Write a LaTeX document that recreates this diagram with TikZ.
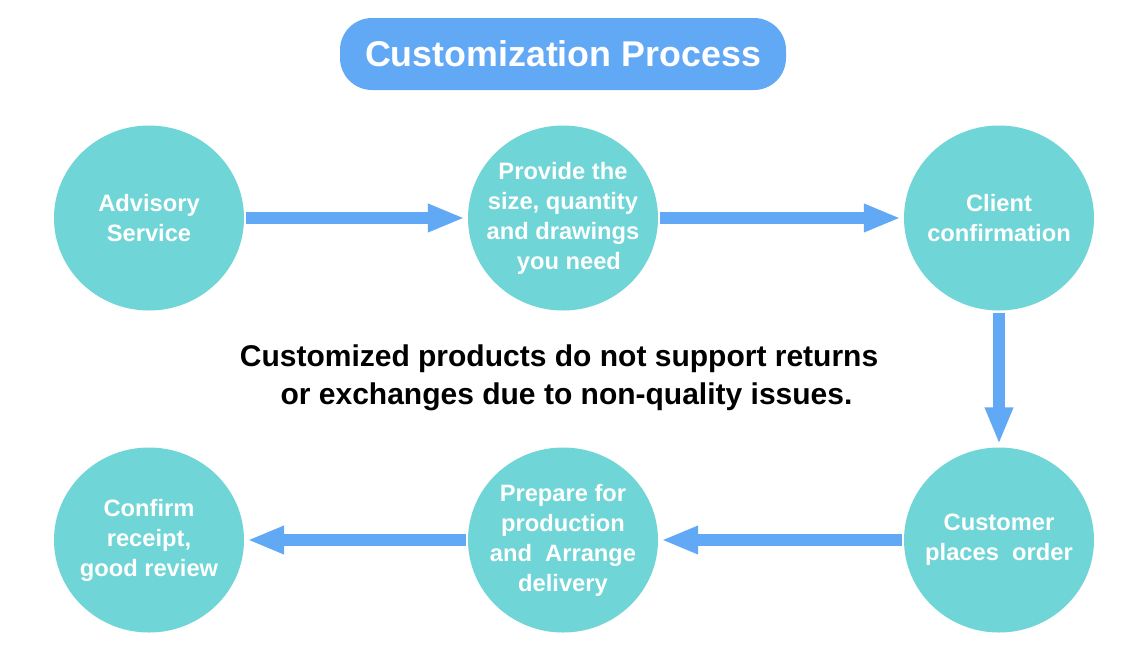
\documentclass[tikz,border=0pt]{standalone}
\usepackage{fontspec}
\setmainfont{Liberation Sans}
\usetikzlibrary{shapes.geometric,arrows.meta}
\definecolor{teal1}{HTML}{6FD5D6}
\definecolor{blue1}{HTML}{62A9F5}
\tikzset{
  stepnode/.style={ellipse, fill=teal1, draw=none, minimum width=190pt, minimum height=185pt,
    inner xsep=-45pt, inner ysep=-40pt, align=center, text=white, font=\fontsize{23.7}{30}\selectfont\bfseries},
  flowarrow/.style={draw=blue1, line width=12pt,
    -{Triangle[length=37pt,width=26pt]}, shorten <=2pt, shorten >=3pt},
}
\begin{document}
\begin{tikzpicture}[x=1pt,y=-1pt]
\useasboundingbox (0,0) rectangle (1142,670);
\fill[white] (0,0) rectangle (1142,670);
\node[fill=blue1, rounded corners=32pt, minimum width=446pt, minimum height=72pt, text=white,
  font=\fontsize{35.8}{40}\selectfont\bfseries] (title) at (563,54) {Customization Process};

\node[stepnode] (a) at (149,218) {Advisory\\Service};
\node[stepnode] (b) at (563,218) {Provide the\\size, quantity\\and drawings\\\hspace*{0.5em}you need};
\node[stepnode] (c) at (999,218) {Client\\confirmation};
\node[stepnode] (d) at (999,540) {Customer\\places\ \ order};
\node[stepnode] (e) at (563,540) {Prepare for\\production\\and\ \ Arrange\\delivery};
\node[stepnode] (f) at (149,540) {Confirm\\receipt,\\good review};

\node[align=center, font=\fontsize{30}{38}\selectfont\bfseries] (note) at (559,378)
  {Customized products do not support returns\\\hspace*{0.5em}or exchanges due to non-quality issues.};

\draw[flowarrow] (a) -- (b);
\draw[flowarrow] (b) -- (c);
\draw[flowarrow] (c) -- (d);
\draw[flowarrow] (d) -- (e);
\draw[flowarrow] (e) -- (f);
\end{tikzpicture}
\end{document}
